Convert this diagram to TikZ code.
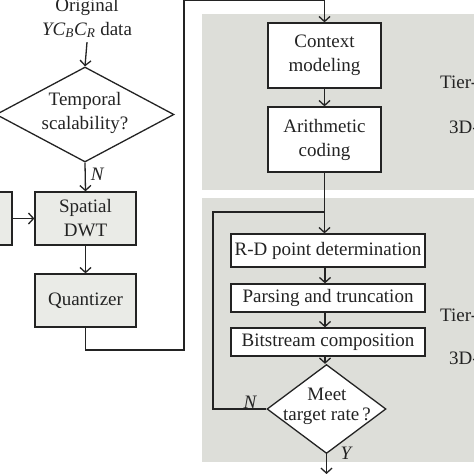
\documentclass[tikz,border=0pt]{standalone}
\usepackage{fontspec}
\setmainfont{Liberation Serif}
\usetikzlibrary{arrows.meta,shapes.geometric}
\definecolor{panelgray}{RGB}{221,222,217}
\definecolor{boxgray}{RGB}{234,235,231}
\definecolor{ink}{RGB}{35,35,35}
\tikzset{
  lbl/.style={font=\fontsize{19}{24}\selectfont, text=ink, align=center, inner sep=0pt},
  graybox/.style={draw=ink, line width=1.3pt, fill=boxgray, inner sep=0pt, lbl},
  whitebox/.style={draw=ink, line width=1.3pt, fill=white, inner sep=0pt, lbl},
  decision/.style={diamond, draw=ink, line width=1.3pt, fill=white, inner sep=0pt},
  conn/.style={draw=ink, line width=1.3pt},
  arr/.style={conn, -{Straight Barb[length=5pt,width=11pt,line width=1.3pt]}},
  side/.style={lbl, anchor=west},
  yn/.style={lbl, font=\fontsize{19}{24}\selectfont\itshape}
}
\begin{document}
\begin{tikzpicture}[x=1pt,y=-1pt]
\useasboundingbox (0,0) rectangle (474,474);
\clip (0,0) rectangle (474,474);
% panels
\fill[panelgray] (202,14) rectangle (480,190);
\fill[panelgray] (202,198) rectangle (480,462);
% left column
\node[lbl] (orig) at (87,18) {Original\\\textit{YC}\textsubscript{\textit{B}}\textit{C}\textsubscript{\textit{R}} data};
\node[decision, minimum width=178pt, minimum height=95pt] (d1) at (85,114.5) {};
\node[lbl] (d1t) at (85,113) {Temporal\\scalability?};
\node[graybox, minimum width=101pt, minimum height=53pt] (sp) at (85.5,218.5) {Spatial\\DWT};
\node[graybox, minimum width=40pt, minimum height=53pt] (lb) at (-8,218.5) {};
\node[graybox, minimum width=101pt, minimum height=53pt] (qz) at (85.5,300.5) {Quantizer};
% right column
\node[whitebox, minimum width=113pt, minimum height=65pt] (ctx) at (324.5,55.5) {Context\\modeling};
\node[whitebox, minimum width=113pt, minimum height=65pt] (ar) at (324.5,139.5) {Arithmetic\\coding};
\node[whitebox, minimum width=194pt, minimum height=33pt] (rd) at (328,250.5) {R-D point determination};
\node[whitebox, minimum width=194pt, minimum height=28pt] (pt) at (328,298) {Parsing and truncation};
\node[whitebox, minimum width=194pt, minimum height=28pt] (bs) at (328,342) {Bitstream composition};
\node[decision, minimum width=119pt, minimum height=89pt] (d2) at (326.5,409) {};
\node[lbl, font=\fontsize{19}{20}\selectfont] (d2t) at (327,406.5) {Meet\\target rate\,?};
% side texts
\node[side] (t1) at (440,82) {Tier-};
\node[side] (e1) at (449,127) {3D-};
\node[side] (t2) at (440,315) {Tier-};
\node[side] (e2) at (449,358) {3D-};
% helper coordinates
\coordinate (c1) at (184,350);
\coordinate (c2) at (184,0.7);
\coordinate (l1) at (213,212);
\coordinate (l2) at (325,212);
\coordinate (out) at (326.5,474);
% connectors
\draw[arr] (orig.south) ++(0,4) -- (d1.north);
\draw[arr] (d1.south) -- (sp.north) node[yn, pos=0.4, right=5pt] (nlab) {N};
\draw[arr] (lb.east) -- (sp.west);
\draw[arr] (sp.south) -- (qz.north);
\draw[arr] (qz.south) |- (c1) -- (c2) -| (ctx.north);
\draw[arr] (ctx.south) -- (ar.north);
\draw[arr] (ar.south) -- (ar.south |- rd.north);
\draw[arr] (rd.south -| l2) -- (pt.north -| l2);
\draw[arr] (pt.south -| l2) -- (bs.north -| l2);
\draw[arr] (bs.south -| l2) -- (d2.north -| l2);
\draw[conn] (d2.west) -| (l1) -- (l2);
\node[yn] (nlab2) at (250,402) {N};
\draw[arr] (d2.south) -- (out);
\node[yn] (ylab) at (346,453) {Y};
\end{tikzpicture}
\end{document}
